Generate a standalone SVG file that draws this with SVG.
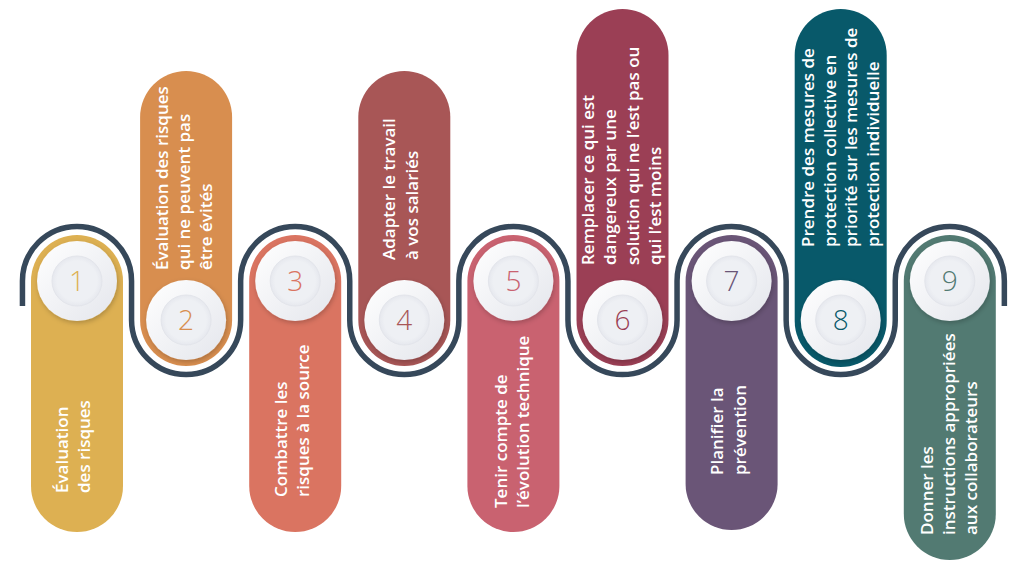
<svg xmlns="http://www.w3.org/2000/svg" width="1024" height="563" viewBox="0 0 1024 563">
<defs>
<style>
.lbl{font-family:"Open Sans","Noto Sans","Liberation Sans",sans-serif;font-size:17px;font-weight:600;fill:#ffffff}
.num{font-family:"Open Sans","Noto Sans","Liberation Sans",sans-serif;font-size:28px;font-weight:300;text-anchor:middle}
.wave{fill:none;stroke:#36485A;stroke-width:5.5}
.ring{fill:url(#ringGrad);filter:url(#shadow)}
.inner{fill:url(#innerGrad);stroke:#E3E5EB;stroke-width:1}
</style>
<linearGradient id="ringGrad" x1="0" y1="0" x2="1" y2="1">
<stop offset="0" stop-color="#FFFFFF"/>
<stop offset="1" stop-color="#E4E6EC"/>
</linearGradient>
<radialGradient id="innerGrad" cx="0.5" cy="0.5" r="0.5">
<stop offset="0.8" stop-color="#EEF0F4"/>
<stop offset="1" stop-color="#E6E8EE"/>
</radialGradient>
<filter id="shadow" x="-30%" y="-30%" width="160%" height="160%">
<feDropShadow dx="1" dy="2" stdDeviation="2.5" flood-color="#000000" flood-opacity="0.22"/>
</filter>
</defs>
<rect width="1024" height="563" fill="#ffffff"/>

<g id="connectors">
<path class="wave" d="M 22.45 306 V 281 A 54.55 54.55 0 0 1 131.55 281 V 320 A 54.55 54.55 0 0 0 240.65 320 V 281 A 54.55 54.55 0 0 1 349.75 281 V 320 A 54.55 54.55 0 0 0 458.85 320 V 281 A 54.55 54.55 0 0 1 567.95 281 V 320 A 54.55 54.55 0 0 0 677.05 320 V 281 A 54.55 54.55 0 0 1 786.15 281 V 320 A 54.55 54.55 0 0 0 895.25 320 V 281 A 54.55 54.55 0 0 1 1004.35 281 V 306"/>
</g>

<g id="step1">
<rect x="31" y="235" width="92" height="297" rx="46" fill="#DDB052"/>
<circle class="ring" cx="77" cy="281" r="40"/>
<circle class="inner" cx="77" cy="281" r="25"/>
<text class="num" x="77" y="291" fill="#DDB052">1</text>
<text class="lbl" transform="translate(68,493) rotate(-90)"><tspan x="0" y="0">Évaluation</tspan><tspan x="0" y="21.5">des risques</tspan></text>
</g>

<g id="step2">
<rect x="140.1" y="71" width="92" height="295" rx="46" fill="#D88E4F"/>
<circle class="ring" cx="186.1" cy="320" r="40"/>
<circle class="inner" cx="186.1" cy="320" r="25"/>
<text class="num" x="186.1" y="330" fill="#D88E4F">2</text>
<text class="lbl" transform="translate(168,270) rotate(-90)"><tspan x="0" y="0">Évaluation des risques</tspan><tspan x="0" y="22">qui ne peuvent pas</tspan><tspan x="0" y="44">être évités</tspan></text>
</g>

<g id="step3">
<rect x="249.2" y="235" width="92" height="297" rx="46" fill="#DA7461"/>
<circle class="ring" cx="295.2" cy="281" r="40"/>
<circle class="inner" cx="295.2" cy="281" r="25"/>
<text class="num" x="295.2" y="291" fill="#DA7461">3</text>
<text class="lbl" transform="translate(287,497) rotate(-90)"><tspan x="0" y="0">Combattre les</tspan><tspan x="0" y="21.5">risques à la source</tspan></text>
</g>

<g id="step4">
<rect x="358.3" y="71" width="92" height="295" rx="46" fill="#A85656"/>
<circle class="ring" cx="404.3" cy="320" r="40"/>
<circle class="inner" cx="404.3" cy="320" r="25"/>
<text class="num" x="404.3" y="330" fill="#A85656">4</text>
<text class="lbl" transform="translate(395,260) rotate(-90)"><tspan x="0" y="0">Adapter le travail</tspan><tspan x="0" y="22.5">à vos salariés</tspan></text>
</g>

<g id="step5">
<rect x="467.4" y="235" width="92" height="297" rx="46" fill="#C96270"/>
<circle class="ring" cx="513.4" cy="281" r="40"/>
<circle class="inner" cx="513.4" cy="281" r="25"/>
<text class="num" x="513.4" y="291" fill="#C96270">5</text>
<text class="lbl" transform="translate(507,508) rotate(-90)"><tspan x="0" y="0">Tenir compte de</tspan><tspan x="0" y="21.5">l’évolution technique</tspan></text>
</g>

<g id="step6">
<rect x="576.5" y="9" width="92" height="357" rx="46" fill="#9B3F55"/>
<circle class="ring" cx="622.5" cy="320" r="40"/>
<circle class="inner" cx="622.5" cy="320" r="25"/>
<text class="num" x="622.5" y="330" fill="#9B3F55">6</text>
<text class="lbl" transform="translate(594,265) rotate(-90)"><tspan x="0" y="0">Remplacer ce qui est</tspan><tspan x="0" y="22.3">dangereux par une</tspan><tspan x="0" y="44.6">solution qui ne l’est pas ou</tspan><tspan x="0" y="66.9">qui l’est moins</tspan></text>
</g>

<g id="step7">
<rect x="685.6" y="235" width="92" height="295" rx="46" fill="#6A5577"/>
<circle class="ring" cx="731.6" cy="281" r="40"/>
<circle class="inner" cx="731.6" cy="281" r="25"/>
<text class="num" x="731.6" y="291" fill="#6A5577">7</text>
<text class="lbl" transform="translate(723,475) rotate(-90)"><tspan x="0" y="0">Planifier la</tspan><tspan x="0" y="22.5">prévention</tspan></text>
</g>

<g id="step8">
<rect x="794.7" y="9" width="92" height="358" rx="46" fill="#08596A"/>
<circle class="ring" cx="840.7" cy="320" r="40"/>
<circle class="inner" cx="840.7" cy="320" r="25"/>
<text class="num" x="840.7" y="330" fill="#08596A">8</text>
<text class="lbl" transform="translate(814,247) rotate(-90)"><tspan x="0" y="0">Prendre des mesures de</tspan><tspan x="0" y="21.7">protection collective en</tspan><tspan x="0" y="43.4">priorité sur les mesures de</tspan><tspan x="0" y="65.1">protection individuelle</tspan></text>
</g>

<g id="step9">
<rect x="903.8" y="235" width="92" height="325" rx="46" fill="#527A72"/>
<circle class="ring" cx="949.8" cy="281" r="40"/>
<circle class="inner" cx="949.8" cy="281" r="25"/>
<text class="num" x="949.8" y="291" fill="#527A72">9</text>
<text class="lbl" transform="translate(933,535) rotate(-90)"><tspan x="0" y="0">Donner les</tspan><tspan x="0" y="22">instructions appropriées</tspan><tspan x="0" y="44">aux collaborateurs</tspan></text>
</g>
</svg>
